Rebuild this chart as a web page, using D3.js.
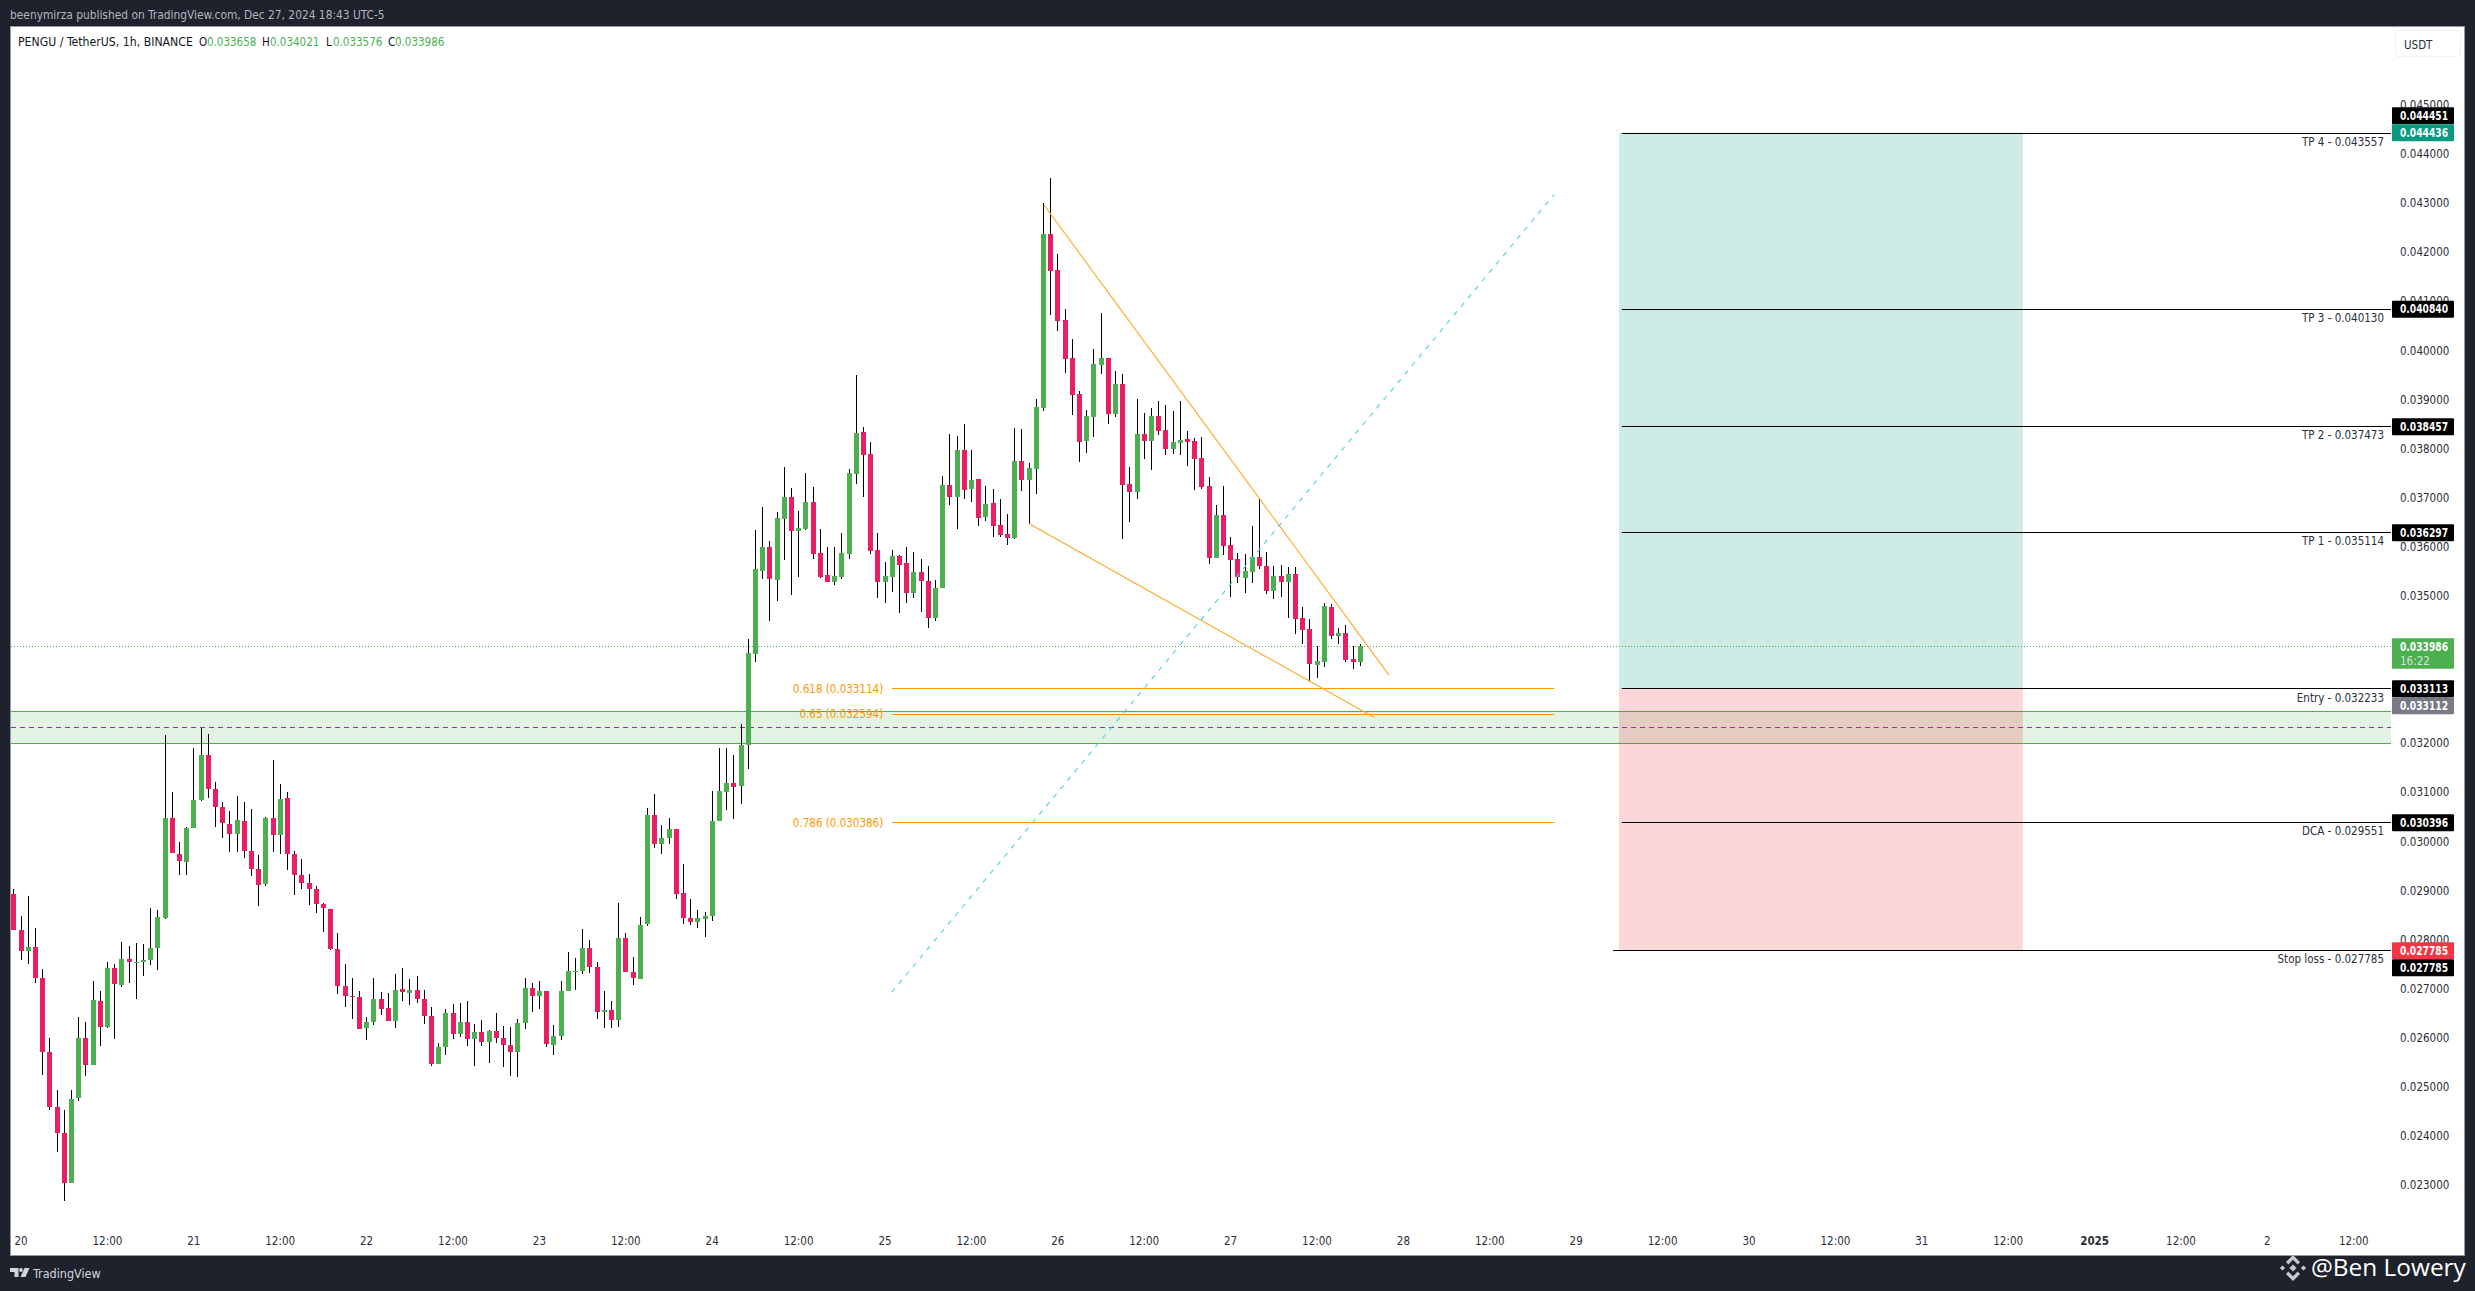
<!DOCTYPE html>
<html>
<head>
<meta charset="utf-8">
<script src="https://cdn.jsdelivr.net/npm/d3@7"></script>
<style>
  html, body { margin: 0; padding: 0; background: #1e222d; overflow: hidden; }
  svg { display: block; }
  text { font-family: "DejaVu Sans Condensed", "Noto Sans", sans-serif; }
</style>
</head>
<body>
<div id="chart"></div>
<script>
// Hourly candles, prices in millionths of USDT (first candle is Dec 19 23:00)
const opens = [28934,28201,27760,27855,27224,25717,24597,24068,23036,24767,
  26002,25439,26755,26212,27427,27068,27611,27536,27536,27577,
  27821,28432,30481,29748,29572,30264,30834,31764,31072,30705,
  30359,30142,30420,29809,29443,29124,30481,30122,30889,29748,
  29321,29158,29036,28730,28629,27814,27061,26857,26837,26192,
  26314,26796,26613,26335,27000,26905,26979,26796,26450,25459,
  25805,26511,26070,26328,25968,26124,25907,26145,26002,25859,
  25703,26294,27020,26844,26959,25846,26029,26945,27346,27353,
  27821,27448,26518,26572,26355,28038,27346,27190,28310,30542,
  29938,30061,30257,28954,28445,28350,28411,28472,30407,30997,
  31194,31119,31953,33806,35516,35998,35333,36575,37016,36330,
  36364,36914,35876,35428,35292,35394,35862,37491,38339,37891,
  35937,35292,35394,35815,35672,35048,35489,35306,34559,35150,
  37260,37023,37973,37186,37382,36615,36894,36446,36263,36188,
  37749,37369,37593,38835,42371,41638,40620,39847,39114,38163,
  38652,39711,39847,38713,39317,37281,37125,38299,38163,38666,
  38381,38000,38116,38197,38157,37811,37240,35761,36650,36039,
  35754,35354,35496,35795,35611,35089,35408,35292,35449,34553,
  34329,33596,33657,34777,34186,34247,33718,33658];
const highs = [29036,28486,28893,28242,27407,26002,24943,24536,24943,26430,
  26328,27163,26959,27549,27509,27957,27875,27936,27916,28649,
  28608,32171,31011,29993,30298,31907,32314,32192,31214,30807,
  30624,30929,30807,30665,29728,30502,31662,31174,31011,29809,
  29647,29341,29097,28751,28629,28140,27509,27224,26959,26430,
  27224,26939,26918,27305,27427,27203,27264,26979,26633,25900,
  26592,26694,26715,26755,26287,26368,26165,26511,26246,26226,
  26389,27224,27122,27163,26959,26267,27163,27753,27631,28221,
  27997,27549,26959,26755,28751,28140,27651,28466,30685,30970,
  30339,30481,30257,29545,28832,28608,28567,31031,31907,31907,
  31764,32395,34125,36344,36812,36120,36711,37627,37199,36731,
  37505,37220,36364,35998,35998,36283,37586,39500,38441,38136,
  36283,35692,35937,35835,35998,35896,35754,35611,35326,37444,
  38299,38258,38502,37973,37382,37240,37179,36975,36670,38421,
  38400,37708,39005,43002,43512,41964,40844,40233,39175,38788,
  40030,40763,39847,39582,39521,37627,39012,38727,38828,38971,
  38890,38767,38971,38360,38218,38238,37424,36853,37240,36202,
  35876,35856,36426,36996,35896,35611,35632,35591,35591,34777,
  34532,33983,34858,34838,34349,34410,33983,34021];
const lows = [28187,27590,27509,27122,25235,24522,23667,22670,23036,24706,
  25215,25439,25826,26192,25968,27027,27108,26782,27251,27475,
  27373,28411,29755,29307,29307,30264,30814,30875,30285,30061,
  29776,29776,29653,29287,28676,29083,29776,29735,29409,28900,
  29022,28696,28534,28147,27780,26884,26620,26375,26172,25948,
  26253,26457,26335,26192,26742,26660,26701,26273,25418,25459,
  25642,25968,26009,25826,25418,25826,25479,25887,25398,25215,
  25194,26172,26518,26579,25805,25642,25948,26945,26966,27292,
  27312,26375,26192,26192,26212,27332,27068,27190,28269,29857,
  29735,29938,28819,28310,28289,28228,28045,28371,30407,30631,
  30447,30753,31478,33643,35353,34478,34905,35740,35027,35394,
  36344,35754,35373,35292,35211,35353,35754,37281,37023,35862,
  34966,34864,35088,34641,34864,34966,34681,34355,34478,35150,
  36860,36371,36982,36921,36432,36534,36208,36208,36045,36168,
  37145,36466,37084,38774,40729,40403,39548,38693,37736,37919,
  38245,39528,38510,38652,36148,36514,36982,37797,37573,38286,
  37878,37899,37878,37654,37166,37186,35659,35761,35822,34967,
  35272,35068,35272,35537,35028,34926,34967,34539,34213,34010,
  33270,33331,33555,34125,34010,33657,33514,33576];
const closes = [28187,27760,27855,27210,25703,24584,24054,23036,24760,26002,
  25439,26776,26212,27427,27088,27611,27536,27549,27590,27834,
  28466,30481,29755,29592,30278,30848,31764,31058,30692,30366,
  30142,30441,29796,29429,29104,30481,30122,30868,29735,29307,
  29144,29022,28717,28635,27801,27047,26844,26844,26172,26328,
  26796,26579,26335,26979,26925,26979,26782,26436,25459,25819,
  26511,26070,26328,25968,26124,25907,26145,25988,25846,25703,
  26307,27020,26844,26959,25866,26043,26959,27366,27366,27834,
  27434,26518,26572,26355,28038,27332,27210,28303,30542,29938,
  30074,30257,28920,28432,28350,28445,28486,30420,31031,31194,
  31099,31968,33840,35550,35998,35353,36588,37016,36330,36385,
  36914,35862,35394,35292,35407,35876,37505,38319,37878,35923,
  35292,35407,35815,35638,35068,35489,35312,34559,35163,37260,
  37023,37973,37165,37362,36595,36873,36432,36249,36188,37749,
  37369,37606,38848,42371,41625,40607,39833,39100,38143,38666,
  39724,39847,38713,39317,37267,37125,38299,38163,38666,38367,
  38000,38136,38177,38136,37797,37227,35781,36650,36025,35740,
  35374,35510,35795,35598,35089,35408,35292,35449,34532,34308,
  33616,33677,34797,34186,34247,33698,33657,33986];

const priceTicks = d3.range(23000, 46000, 1000);
const timeLabels = ['20','12:00','21','12:00','22','12:00','23','12:00','24','12:00','25','12:00','26','12:00',
  '27','12:00','28','12:00','29','12:00','30','12:00','31','12:00','2025','12:00','2','12:00'];

// Trade plan levels
const targetNames = ['TP 4 - 0.043557','TP 3 - 0.040130','TP 2 - 0.037473','TP 1 - 0.035114',
  'Entry - 0.032233','DCA - 0.029551','Stop loss - 0.027785'];
const targetLevels = [44436,40840,38457,36297,33113,30396,27785];
const fibNames = ['0.618 (0.033114)','0.65 (0.032594)','0.786 (0.030386)'];
const fibLevels = [33114,32594,30386];
const supplyBand = [32000,32660];
const midLevel = 32327;
const lastPrice = 33986;

// Drawn lines as [hour, price]
const upperWedge = [[142.15,42962],[190.07,33386]];
const lowerWedge = [[140.1,36467],[188.03,32523]];
const fibTrend = [[121,26926],[213,43175]];
const fibSpan = [121,213];
const tradeSpan = [222,278.1];
const targetStart = 222.4;
const stopStart = 221.2;

const config = { width: 2475, height: 1291, left: 11, right: 2464, top: 27, bottom: 1255, axisX: 2391 };
const colors = { up: '#4caf50', down: '#e91e63', bg: '#1e222d', fib: '#ff9800', trend: '#ffa726', cyan: '#4dd0e1', text: '#131722' };

const xScale = d3.scaleLinear().domain([0, 24]).range([20.5, 193.3]);
const yScale = d3.scaleLinear().domain([23000, 45000]).range([1185, 104.9]);
const fmt = d => (d / 1e6).toFixed(6);

const svg = d3.select('#chart').append('svg')
  .attr('width', config.width)
  .attr('height', config.height)
  .attr('viewBox', `0 0 ${config.width} ${config.height}`);

svg.append('rect').attr('width', config.width).attr('height', config.height).attr('fill', colors.bg);
svg.append('rect')
  .attr('x', config.left - 0.5).attr('y', config.top - 0.5)
  .attr('width', config.right - config.left + 1).attr('height', config.bottom - config.top + 1)
  .attr('fill', '#fff').attr('stroke', '#9598a1');

drawBand();
drawTradeZones();
drawCandles();
drawFib();
drawTrendLines();
drawTargets();
drawAxes();
drawPriceTags();
drawHeader();
drawFooter();

function drawBand () {
  const g = svg.append('g').attr('class', 'band');
  g.append('rect')
    .attr('x', config.left).attr('width', config.axisX - config.left)
    .attr('y', yScale(supplyBand[1])).attr('height', yScale(supplyBand[0]) - yScale(supplyBand[1]))
    .attr('fill', '#4caf50').attr('fill-opacity', 0.16);
  g.selectAll('line.edge').data(supplyBand).enter().append('line').attr('class', 'edge')
    .attr('x1', config.left).attr('x2', config.axisX)
    .attr('y1', d => Math.round(yScale(d)) + 0.5).attr('y2', d => Math.round(yScale(d)) + 0.5)
    .attr('stroke', '#4caf50').attr('stroke-width', 1);
  g.append('line')
    .attr('x1', config.left).attr('x2', config.axisX)
    .attr('y1', Math.round(yScale(midLevel)) + 0.5).attr('y2', Math.round(yScale(midLevel)) + 0.5)
    .attr('stroke', '#9c27b0').attr('stroke-dasharray', '5,4');
  // last price line
  g.append('line')
    .attr('x1', config.left).attr('x2', config.axisX)
    .attr('y1', Math.round(yScale(lastPrice)) + 0.5).attr('y2', Math.round(yScale(lastPrice)) + 0.5)
    .attr('stroke', colors.up).attr('stroke-dasharray', '1,2');
}

function drawTradeZones () {
  const x0 = xScale(tradeSpan[0]);
  const w = xScale(tradeSpan[1]) - x0;
  const entry = targetLevels[4];
  svg.append('rect').attr('x', x0).attr('width', w)
    .attr('y', yScale(targetLevels[0])).attr('height', yScale(entry) - yScale(targetLevels[0]))
    .attr('fill', '#089981').attr('fill-opacity', 0.2);
  svg.append('rect').attr('x', x0).attr('width', w)
    .attr('y', yScale(entry)).attr('height', yScale(targetLevels[6]) - yScale(entry))
    .attr('fill', '#f23645').attr('fill-opacity', 0.2);
}

function drawCandles () {
  const data = closes.map((c, i) => ({ hour: i - 1, o: opens[i], h: highs[i], l: lows[i], c }));
  const g = svg.append('g').attr('class', 'candles').attr('shape-rendering', 'crispEdges');
  const cx = d => Math.round(xScale(d.hour));
  g.selectAll('line').data(data).enter().append('line')
    .attr('x1', d => cx(d) + 0.5).attr('x2', d => cx(d) + 0.5)
    .attr('y1', d => yScale(d.h)).attr('y2', d => yScale(d.l))
    .attr('stroke', '#000').attr('stroke-width', 1);
  g.selectAll('rect').data(data).enter().append('rect')
    .attr('x', d => cx(d) - 2).attr('width', 5)
    .attr('y', d => yScale(Math.max(d.o, d.c)))
    .attr('height', d => Math.max(1, Math.abs(yScale(d.o) - yScale(d.c))))
    .attr('fill', d => (d.c >= d.o ? colors.up : colors.down));
}

function drawFib () {
  const g = svg.append('g').attr('class', 'fib');
  g.selectAll('line').data(fibLevels).enter().append('line')
    .attr('x1', xScale(fibSpan[0])).attr('x2', xScale(fibSpan[1]))
    .attr('y1', d => Math.round(yScale(d)) + 0.5).attr('y2', d => Math.round(yScale(d)) + 0.5)
    .attr('stroke', colors.fib).attr('stroke-width', 1);
  g.selectAll('text').data(fibLevels).enter().append('text')
    .attr('x', xScale(fibSpan[0]) - 8.5)
    .attr('y', d => yScale(d))
    .attr('dy', '0.36em')
    .attr('text-anchor', 'end')
    .attr('font-size', 11.5)
    .attr('fill', colors.fib)
    .text((d, i) => fibNames[i]);
}

function drawTrendLines () {
  const line = d3.line().x(d => xScale(d[0])).y(d => yScale(d[1]));
  const g = svg.append('g').attr('class', 'trend').attr('fill', 'none');
  g.append('path').attr('d', line(upperWedge)).attr('stroke', colors.trend).attr('stroke-width', 1.1);
  g.append('path').attr('d', line(lowerWedge)).attr('stroke', colors.trend).attr('stroke-width', 1.1);
  g.append('path').attr('d', line(fibTrend)).attr('stroke', colors.cyan)
    .attr('stroke-width', 1.1).attr('stroke-dasharray', '5,6');
}

function drawTargets () {
  const g = svg.append('g').attr('class', 'targets');
  g.selectAll('line').data(targetLevels).enter().append('line')
    .attr('x1', d => xScale(d === targetLevels[6] ? stopStart : targetStart)).attr('x2', config.axisX)
    .attr('y1', d => Math.round(yScale(d)) + 0.5).attr('y2', d => Math.round(yScale(d)) + 0.5)
    .attr('stroke', '#000').attr('stroke-width', 1);
  g.selectAll('text').data(targetLevels).enter().append('text')
    .attr('x', 2384)
    .attr('y', d => yScale(d) + 9)
    .attr('dy', '0.36em')
    .attr('text-anchor', 'end')
    .attr('font-size', 11.5)
    .attr('fill', '#2a2e39')
    .text((d, i) => targetNames[i]);
}

function drawAxes () {
  const yAxis = d3.axisRight(yScale).tickValues(priceTicks).tickFormat(fmt).tickSize(0).tickPadding(0);
  svg.append('g').attr('transform', 'translate(2400,0)').call(yAxis)
    .call(g => g.select('.domain').remove())
    .selectAll('text').attr('font-size', 11.5).attr('fill', '#2a2e39')
    .style('font-family', '"DejaVu Sans Condensed", "Noto Sans", sans-serif');

  const xAxis = d3.axisBottom(xScale)
    .tickValues(timeLabels.map((d, i) => i * 12))
    .tickFormat((d, i) => timeLabels[i])
    .tickSize(0).tickPadding(0);
  svg.append('g').attr('transform', 'translate(0,1237)').call(xAxis)
    .call(g => g.select('.domain').remove())
    .selectAll('text').attr('font-size', 11.5).attr('fill', '#2a2e39')
    .attr('font-weight', d => (d === 288 ? 'bold' : null))
    .style('font-family', '"DejaVu Sans Condensed", "Noto Sans", sans-serif');
}

function priceTag (text, cy, fill, sub) {
  const g = svg.append('g');
  g.append('rect').attr('x', 2392).attr('y', cy - 8.5).attr('width', 62).attr('height', sub ? 30.5 : 17)
    .attr('rx', 1).attr('fill', fill);
  g.append('text').attr('x', 2400).attr('y', cy).attr('dy', '0.36em')
    .attr('font-size', 11.5).attr('font-weight', 'bold').attr('fill', '#fff')
    .attr('textLength', 48).attr('lengthAdjust', 'spacingAndGlyphs').text(text);
  if (sub) {
    g.append('text').attr('x', 2400).attr('y', cy + 14).attr('dy', '0.36em')
      .attr('font-size', 11.5).attr('fill', '#fff').attr('fill-opacity', 0.75).text(sub);
  }
}

function drawPriceTags () {
  priceTag('0.044451', 115.7, '#000');
  priceTag('0.044436', 132.7, '#089981');
  priceTag('0.040840', 309.3, '#000');
  priceTag('0.038457', 426.7, '#000');
  priceTag('0.036297', 532.7, '#000');
  priceTag('0.033986', 646.8, colors.up, '16:22');
  priceTag('0.033113', 688.7, '#000');
  priceTag('0.033112', 705.7, '#787b86');
  priceTag('0.030396', 822.7, '#000');
  priceTag('0.027785', 950.7, '#f23645');
  priceTag('0.027785', 967.7, '#000');

  svg.append('rect').attr('x', 2395.5).attr('y', 30.5).attr('width', 65).attr('height', 26).attr('rx', 3)
    .attr('fill', '#fff').attr('stroke', '#e0e3eb').attr('stroke-dasharray', '1,1');
  svg.append('text').attr('x', 2404).attr('y', 44.6).attr('dy', '0.36em')
    .attr('font-size', 11.5).attr('fill', '#2a2e39').text('USDT');
}

function drawHeader () {
  svg.append('text').attr('x', 10).attr('y', 15).attr('dy', '0.36em')
    .attr('font-size', 11.85).attr('fill', '#b2b5be')
    .text('beenymirza published on TradingView.com, Dec 27, 2024 18:43 UTC-5');

  const legend = svg.append('g').attr('font-size', 11.5);
  const row = [['PENGU / TetherUS, 1h, BINANCE', 18, colors.text], ['O', 199, colors.text], ['0.033658', 207, colors.up],
    ['H', 262, colors.text], ['0.034021', 270, colors.up], ['L', 326, colors.text], ['0.033576', 333, colors.up],
    ['C', 388, colors.text], ['0.033986', 395, colors.up]];
  legend.selectAll('text').data(row).enter().append('text')
    .attr('x', d => d[1]).attr('y', 41.6).attr('dy', '0.36em')
    .attr('font-size', (d, i) => (i === 0 ? 12.2 : null))
    .attr('fill', d => d[2]).text(d => d[0]);
}

function drawFooter () {
  const logo = svg.append('g').attr('fill', '#d1d4dc').attr('transform', 'translate(10,1268)');
  logo.append('path').attr('d', 'M0 0h8.5v9h-4v-5h-4.5z');
  logo.append('circle').attr('cx', 11).attr('cy', 2).attr('r', 1.9);
  logo.append('path').attr('d', 'M14.5 0h5l-4 9h-5z');
  svg.append('text').attr('x', 33).attr('y', 1273).attr('dy', '0.36em')
    .attr('font-size', 12.5).attr('fill', '#d1d4dc').text('TradingView');

  const mark = svg.append('g').attr('fill', '#c8c9cc').attr('transform', 'translate(2293,1268)');
  mark.append('path').attr('d', 'M0 -3.6L3.6 0L0 3.6L-3.6 0Z');
  mark.append('path').attr('d', 'M-10.5 -2.6L-7.9 0L-10.5 2.6L-13.1 0Z');
  mark.append('path').attr('d', 'M10.5 -2.6L13.1 0L10.5 2.6L7.9 0Z');
  mark.append('path').attr('d', 'M0 -13L7 -6L4.6 -3.6L0 -8.2L-4.6 -3.6L-7 -6Z');
  mark.append('path').attr('d', 'M0 13L7 6L4.6 3.6L0 8.2L-4.6 3.6L-7 6Z');
  svg.append('text').attr('x', 2311).attr('y', 1267).attr('dy', '0.36em')
    .attr('font-size', 24.4).attr('fill', '#fff')
    .style('font-family', '"Open Sans", sans-serif')
    .text('@Ben Lowery');
}
</script>
</body>
</html>
